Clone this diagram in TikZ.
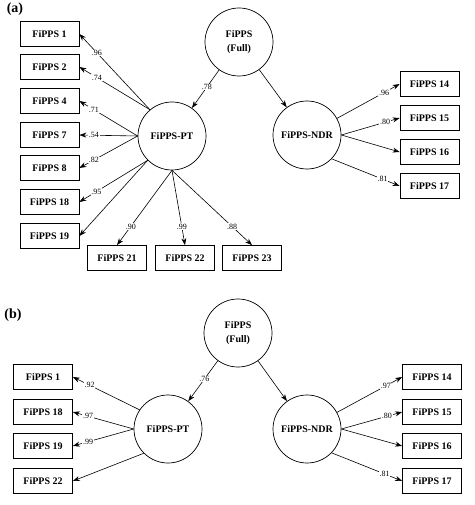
\documentclass[tikz,border=0pt]{standalone}
\usepackage{fontspec}
\setmainfont{Liberation Serif}
\usetikzlibrary{arrows.meta}

\begin{document}
\begin{tikzpicture}[
  x=1pt,
  y=-1pt,
  panel/.style={
    font=\fontsize{14}{16}\selectfont\bfseries,
  },
  item/.style={
    draw=black,
    line width=0.7pt,
    minimum width=59pt,
    minimum height=25pt,
    inner sep=0pt,
    font=\fontsize{10}{12}\selectfont\bfseries,
  },
  factor/.style={
    draw=black,
    line width=0.7pt,
    circle,
    minimum size=68pt,
    inner sep=0pt,
    align=center,
    font=\fontsize{10}{14}\selectfont\bfseries,
  },
  link/.style={
    line width=0.6pt,
    -{Stealth[length=7pt,width=5pt]},
  },
  loading/.style={
    pos=0.75,
    fill=white,
    inner sep=0.6pt,
    font=\fontsize{8}{9}\selectfont,
  }
]
\useasboundingbox (0,0) rectangle (474,505);

% (a)
\node[panel] (titleA) at (15,9) {(a)};
\node[factor] (fullA) at (239,42) {FiPPS\\(Full)};
\node[factor] (ptA) at (172,136) {FiPPS-PT};
\node[factor] (ndrA) at (307,135) {FiPPS-NDR};

\node[item] (a1) at (49.5,34) {FiPPS 1};
\node[item] (a2) at (49.5,67) {FiPPS 2};
\node[item] (a4) at (49.5,101) {FiPPS 4};
\node[item] (a7) at (49.5,135) {FiPPS 7};
\node[item] (a8) at (49.5,168) {FiPPS 8};
\node[item] (a18) at (49.5,202) {FiPPS 18};
\node[item] (a19) at (49.5,236) {FiPPS 19};
\node[item] (a21) at (117,258) {FiPPS 21};
\node[item] (a22) at (185,258) {FiPPS 22};
\node[item] (a23) at (252,258) {FiPPS 23};
\node[item] (a14) at (429.5,84) {FiPPS 14};
\node[item] (a15) at (429.5,118) {FiPPS 15};
\node[item] (a16) at (429.5,152) {FiPPS 16};
\node[item] (a17) at (429.5,186) {FiPPS 17};

\draw[link] (fullA) -- node[loading,pos=0.45] {.78} (ptA);
\draw[link] (fullA) -- (ndrA);

\draw[link] (ptA.130) -- node[loading] {.96} (a1.east);
\draw[link] (ptA.130) -- node[loading] {.74} (a2.east);
\draw[link] (ptA.west) -- node[loading] {.71} (a4.east);
\draw[link] (ptA.west) -- node[loading] {.54} (a7.east);
\draw[link] (ptA.west) -- node[loading] {.82} (a8.east);
\draw[link] (ptA.225) -- node[loading] {.95} (a18.east);
\draw[link] (ptA.225) -- (a19.east);
\draw[link] (ptA.south) -- node[loading] {.90} (a21.north);
\draw[link] (ptA.south) -- node[loading] {.99} (a22.north);
\draw[link] (ptA.south) -- node[loading] {.88} (a23.north);

\draw[link] (ndrA.29) -- node[loading] {.96} (a14.west);
\draw[link] (ndrA.east) -- node[loading] {.80} (a15.west);
\draw[link] (ndrA.east) -- (a16.west);
\draw[link] (ndrA.316) -- node[loading] {.81} (a17.west);

% (b)
\node[panel] (titleB) at (13,315) {(b)};
\node[factor] (fullB) at (238,333) {FiPPS\\(Full)};
\node[factor] (ptB) at (168,429) {FiPPS-PT};
\node[factor] (ndrB) at (307,429) {FiPPS-NDR};

\node[item] (b1) at (43,377) {FiPPS 1};
\node[item] (b18) at (43,412) {FiPPS 18};
\node[item] (b19) at (43,446) {FiPPS 19};
\node[item] (b22) at (43,481) {FiPPS 22};
\node[item] (b14) at (432,377) {FiPPS 14};
\node[item] (b15) at (432,412) {FiPPS 15};
\node[item] (b16) at (432,446) {FiPPS 16};
\node[item] (b17) at (432,481) {FiPPS 17};

\draw[link] (fullB) -- node[loading,pos=0.45] {.76} (ptB);
\draw[link] (fullB) -- (ndrB);

\draw[link] (ptB.146) -- node[loading] {.92} (b1.east);
\draw[link] (ptB.west) -- node[loading] {.97} (b18.east);
\draw[link] (ptB.west) -- node[loading] {.99} (b19.east);
\draw[link] (ptB.225) -- (b22.east);

\draw[link] (ndrB.29) -- node[loading] {.97} (b14.west);
\draw[link] (ndrB.east) -- node[loading] {.80} (b15.west);
\draw[link] (ndrB.east) -- (b16.west);
\draw[link] (ndrB.316) -- node[loading] {.81} (b17.west);
\end{tikzpicture}
\end{document}
